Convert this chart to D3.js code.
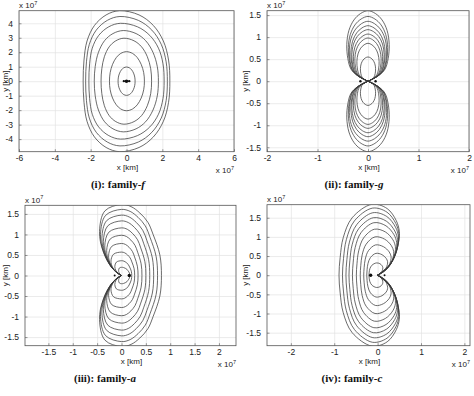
<!DOCTYPE html>
<html><head><meta charset="utf-8">
<script src="https://cdn.jsdelivr.net/npm/d3@7"></script>
<style>
body{margin:0;background:#fff;}
svg{display:block;}
text{font-family:"Liberation Sans",Arial,sans-serif;fill:#222;}
.cap{font-family:"Liberation Serif","Times New Roman",serif;font-weight:bold;fill:#111;}
</style></head>
<body>
<script>
// ---------- data (units of 10^7 km) ----------
// family-f : closed orbits, upper-half outline (x>0 scaled by right extent, x<0 by left extent, y by top)
const fTops   = [4.87, 4.47, 4.0, 3.5, 2.97, 2.04, 0.98];
const fRights = [2.42, 2.28, 2.1, 1.78, 1.4, 1.0, 0.48];
const fLefts  = [-2.42, -2.28, -2.1, -1.8, -1.42, -0.95, -0.47];
const fShapeOf = [0, 0, 0, 1, 1, 2, 2];
const fShapes = [
  [[1,0],[0.97,0.3],[0.85,0.57],[0.62,0.79],[0.29,0.94],[-0.16,1.0],[-0.47,0.94],[-0.74,0.79],[-0.91,0.57],[-0.98,0.3],[-1,0]],
  [[1,0],[0.965,0.29],[0.83,0.57],[0.6,0.8],[0.3,0.94],[-0.1,1.0],[-0.42,0.94],[-0.68,0.8],[-0.87,0.57],[-0.97,0.29],[-1,0]],
  [[1,0],[0.96,0.29],[0.82,0.57],[0.6,0.8],[0.34,0.94],[0,1.0],[-0.34,0.94],[-0.6,0.8],[-0.82,0.57],[-0.96,0.29],[-1,0]]
];
const fBodies = [[-0.15,0,1.1],[0,0,1.8],[0.15,0,1.1]];

// family-g : loops through the origin (upper loops, mirrored below)
const gTops   = [1.6, 1.47, 1.36, 1.26, 1.17, 1.07, 0.98, 0.86, 0.55];
const gWidths = [0.42, 0.39, 0.37, 0.34, 0.32, 0.29, 0.26, 0.22, 0.15];
const gShape  = [[0,0],[0.5,0.08],[0.8,0.17],[0.95,0.32],[1.0,0.52],[0.9,0.72],[0.66,0.87],[0.35,0.96],[0,1.0]];
const gBodies = [[-0.15,0,1.2],[0.15,0,1.2]];

// family-a : orbits with cusp at origin, bulging right
const aTops   = [1.73, 1.61, 1.47, 1.33, 1.16, 0.98, 0.78, 0.57, 0.36, 0.2];
const aRights = [0.82, 0.74, 0.66, 0.58, 0.5, 0.42, 0.34, 0.27, 0.21, 0.17];
const aLefts  = [-0.46, -0.44, -0.41, -0.38, -0.35, -0.31, -0.27, -0.22, -0.14, -0.06];
const aShape  = [[0,0],[-0.43,0.11],[-0.83,0.35],[-0.98,0.62],[-0.74,0.91],[0,1.0],[0.24,0.97],[0.46,0.88],[0.66,0.75],[0.79,0.58],[0.96,0.29],[1,0]];
const aBodies = [[-0.14,0,1.0],[0.16,0,1.7]];

// family-c : orbits with cusp at origin, bulging left
const cTops   = [1.85, 1.75, 1.63, 1.5, 1.37, 1.2, 1.0, 0.79, 0.57, 0.32];
const cLefts  = [-0.89, -0.81, -0.73, -0.66, -0.58, -0.49, -0.4, -0.32, -0.25, -0.2];
const cRights = [0.5, 0.49, 0.48, 0.46, 0.44, 0.41, 0.37, 0.31, 0.23, 0.12];
const cShape  = [[0,0],[0.5,0.13],[0.82,0.3],[0.98,0.49],[1.0,0.62],[0.86,0.77],[0.44,0.94],[-0.15,1.0],[-0.66,0.81],[-0.89,0.53],[-0.97,0.25],[-1,0]];
const cBodies = [[-0.16,0,1.7],[0.16,0,1.0]];

// axes
const fXTicks = [-6,-4,-2,0,2,4,6], fYTicks = [-4,-3,-2,-1,0,1,2,3,4];
const gXTicks = [-2,-1,0,1,2],      gYTicks = [-1.5,-1,-0.5,0,0.5,1,1.5];
const aXTicks = [-1.5,-1,-0.5,0,0.5,1,1.5,2], aYTicks = [-1.5,-1,-0.5,0,0.5,1,1.5];
const cXTicks = [-2,-1,0,1,2],      cYTicks = [-1.5,-1,-0.5,0,0.5,1,1.5];
const captionsNum = ["(i): family-","(ii): family-","(iii): family-","(iv): family-"];
const captionsFam = ["f","g","a","c"];

// ---------- drawing ----------
const svg = d3.select("body").append("svg").attr("width",474).attr("height",396);

function scale(shape, R, L, T){
  return shape.map(([u,v]) => [u >= 0 ? u*R : u*(-L), v*T]);
}

function panel(cfg){
  const x = d3.scaleLinear().domain(cfg.xd).range([cfg.l, cfg.r]);
  const y = d3.scaleLinear().domain(cfg.yd).range([cfg.b, cfg.t]);
  const w = cfg.r-cfg.l, h = cfg.b-cfg.t;
  const g = svg.append("g");

  g.append("rect").attr("x",cfg.l).attr("y",cfg.t).attr("width",w).attr("height",h).attr("fill","#fff");
  const gx = g.append("g").attr("transform",`translate(0,${cfg.b})`)
    .call(d3.axisBottom(x).tickValues(cfg.xt).tickSize(-h).tickFormat(""));
  const gy = g.append("g").attr("transform",`translate(${cfg.l},0)`)
    .call(d3.axisLeft(y).tickValues(cfg.yt).tickSize(-w).tickFormat(""));
  [gx,gy].forEach(a=>{a.select(".domain").remove(); a.selectAll("line").attr("stroke","#e2e2e2").attr("stroke-width",0.7);});

  const lx = g.append("g").attr("transform",`translate(0,${cfg.b})`)
    .call(d3.axisBottom(x).tickValues(cfg.xt).tickSize(2.5).tickPadding(0).tickFormat(d=>String(d)));
  const ly = g.append("g").attr("transform",`translate(${cfg.l},0)`)
    .call(d3.axisLeft(y).tickValues(cfg.yt).tickSize(2.5).tickPadding(3.5).tickFormat(d=>String(d)));
  [lx,ly].forEach(a=>{a.select(".domain").remove();
    a.selectAll("line").attr("stroke","#555").attr("stroke-width",0.6);
    a.selectAll("text").attr("font-size",8.5).attr("fill","#222").attr("font-family","Liberation Sans, Arial, sans-serif");});
  lx.selectAll("line").attr("y2",-2.5);
  lx.selectAll("text").attr("y",3.5);
  ly.selectAll("line").attr("x2",2.5);

  const clipId = "clip"+cfg.id;
  svg.append("clipPath").attr("id",clipId).append("rect")
    .attr("x",cfg.l).attr("y",cfg.t).attr("width",w).attr("height",h);
  const plot = g.append("g").attr("clip-path",`url(#${clipId})`);
  cfg.draw(plot, x, y);

  g.append("rect").attr("x",cfg.l).attr("y",cfg.t).attr("width",w).attr("height",h)
    .attr("fill","none").attr("stroke","#555").attr("stroke-width",0.8);

  const e1 = g.append("text").attr("x",cfg.l).attr("y",cfg.t-2.5).attr("font-size",8);
  e1.append("tspan").text("x 10");
  e1.append("tspan").attr("font-size",5.5).attr("dy",-3.5).text("7");
  const e2 = g.append("text").attr("x",cfg.r).attr("y",cfg.b+21.5).attr("font-size",8).attr("text-anchor","end");
  e2.append("tspan").text("x 10");
  e2.append("tspan").attr("font-size",5.5).attr("dy",-3.5).text("7");

  g.append("text").attr("x",(cfg.l+cfg.r)/2+1).attr("y",cfg.b+18.5).attr("font-size",8)
    .attr("text-anchor","middle").text("x [km]");
  g.append("text").attr("transform",`translate(${cfg.yl},${(cfg.t+cfg.b)/2}) rotate(-90)`)
    .attr("font-size",8).attr("text-anchor","middle").text("y [km]");

  const cap = g.append("text").attr("class","cap").attr("x",cfg.cx).attr("y",cfg.cy)
    .attr("font-size",11).attr("text-anchor","middle");
  cap.append("tspan").text(captionsNum[cfg.id]);
  cap.append("tspan").attr("font-style","italic").text(captionsFam[cfg.id]);
}

function bodies(plot,x,y,list){
  plot.selectAll("circle.b").data(list).join("circle").attr("class","b")
    .attr("cx",d=>x(d[0])).attr("cy",d=>y(d[1])).attr("r",d=>d[2]).attr("fill","#111");
}

const stroke = "#3a3a3a", sw = 0.75;

// (i) family-f
panel({id:0, l:19, r:234, t:10.7, b:151.7, xd:[-6,6], yd:[-4.87,4.87], xt:fXTicks, yt:fYTicks,
  yl:8, cx:118, cy:187.5,
  draw:(plot,x,y)=>{
    const line = d3.line().x(d=>x(d[0])).y(d=>y(d[1])).curve(d3.curveCatmullRomClosed.alpha(0.5));
    fTops.forEach((T,i)=>{
      const up = scale(fShapes[fShapeOf[i]], fRights[i], fLefts[i], T);
      const low = up.slice(1,-1).reverse().map(([a,b])=>[a,-b]);
      plot.append("path").attr("d",line(up.concat(low))).attr("fill","none").attr("stroke",stroke).attr("stroke-width",sw);
    });
    plot.append("line").attr("x1",x(-0.2)).attr("x2",x(0.22)).attr("y1",y(0)).attr("y2",y(0)).attr("stroke","#111").attr("stroke-width",0.9);
    bodies(plot,x,y,fBodies);
  }});

// (ii) family-g
panel({id:1, l:267, r:469, t:10.7, b:151.7, xd:[-2,2], yd:[-1.6,1.6], xt:gXTicks, yt:gYTicks,
  yl:248, cx:354, cy:187.5,
  draw:(plot,x,y)=>{
    const line = d3.line().x(d=>x(d[0])).y(d=>y(d[1])).curve(d3.curveCatmullRom.alpha(0.5));
    gTops.forEach((T,i)=>{
      const right = gShape.map(([u,v])=>[u*gWidths[i], v*T]);
      const left = right.slice(0,-1).reverse().map(([a,b])=>[-a,b]);
      const loop = right.concat(left);
      [1,-1].forEach(s=>{
        plot.append("path").attr("d",line(loop.map(([a,b])=>[a,s*b])))
          .attr("fill","none").attr("stroke",stroke).attr("stroke-width",sw);
      });
    });
    bodies(plot,x,y,gBodies);
  }});

function cuspFamily(tops, rights, lefts, shape){
  return (plot,x,y)=>{
    const line = d3.line().x(d=>x(d[0])).y(d=>y(d[1])).curve(d3.curveCatmullRom.alpha(0.5));
    tops.forEach((T,i)=>{
      const up = scale(shape, rights[i], lefts[i], T);
      const low = up.slice(0,-1).reverse().map(([a,b])=>[a,-b]);
      plot.append("path").attr("d",line(up.concat(low))).attr("fill","none").attr("stroke",stroke).attr("stroke-width",sw);
    });
  };
}

// (iii) family-a
panel({id:2, l:25, r:236, t:205.3, b:345.7, xd:[-1.98,2.35], yd:[-1.71,1.71], xt:aXTicks, yt:aYTicks,
  yl:8, cx:105, cy:382,
  draw:(plot,x,y)=>{ cuspFamily(aTops,aRights,aLefts,aShape)(plot,x,y); bodies(plot,x,y,aBodies); }});

// (iv) family-c
panel({id:3, l:267, r:470, t:204.7, b:345.7, xd:[-2.55,2.13], yd:[-1.84,1.84], xt:cXTicks, yt:cYTicks,
  yl:248, cx:352, cy:382,
  draw:(plot,x,y)=>{ cuspFamily(cTops,cRights,cLefts,cShape)(plot,x,y); bodies(plot,x,y,cBodies); }});
</script>
</body></html>
